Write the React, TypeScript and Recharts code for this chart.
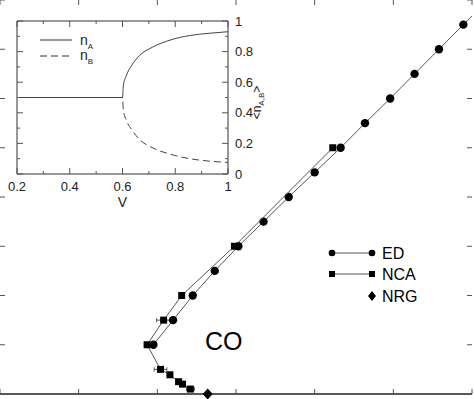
import React from "react";
import {
  ScatterChart,
  Scatter,
  LineChart,
  Line,
  XAxis,
  YAxis,
  ErrorBar,
  Legend,
  Label,
} from "recharts";

// main panel - ED (circles)
const edX = [1.95, 2.2, 2.45, 2.73, 3.03, 3.35, 3.67, 4.0, 4.33, 4.64, 4.96, 5.27, 5.58, 5.89, 6.2];
const edY = [1.0, 1.5, 2.0, 2.5, 3.0, 3.5, 4.0, 4.5, 5.0, 5.5, 6.0, 6.5, 7.0, 7.5, 8.0];

// NCA (squares), with horizontal error bars on a few points
const ncaX = [4.23, 2.98, 2.31, 2.08, 1.87, 2.04, 2.16, 2.27, 2.32, 2.42];
const ncaY = [5.0, 3.0, 2.0, 1.5, 1.0, 0.5, 0.39, 0.25, 0.2, 0.1];
const ncaErr = [0, 0, 0, 0.09, 0, 0.08, 0, 0, 0, 0.05];

// NRG (diamond)
const nrgX = [2.64];
const nrgY = [0];

const mainXTicks = [0, 1, 2, 3, 4, 5, 6];
const mainYTicks = [0, 1, 2, 3, 4, 5, 6, 7, 8];

// inset: occupation numbers vs V
const insetV = [0.2, 0.6, 0.603, 0.615, 0.635, 0.665, 0.715, 0.78, 0.855, 0.93, 1.0];
const nA = [0.5, 0.5, 0.575, 0.645, 0.71, 0.775, 0.83, 0.875, 0.905, 0.92, 0.93];
const nB = [0.5, 0.5, 0.42, 0.35, 0.29, 0.225, 0.17, 0.13, 0.1, 0.084, 0.076];

const insetXMajor = [0.2, 0.4, 0.6, 0.8, 1];
const insetXMinor = [0.2, 0.3, 0.4, 0.5, 0.6, 0.7, 0.8, 0.9, 1];
const insetYMajor = [0, 0.2, 0.4, 0.6, 0.8, 1];
const insetYMinor = [0, 0.1, 0.2, 0.3, 0.4, 0.5, 0.6, 0.7, 0.8, 0.9, 1];

const edData = edX.map((x, i) => ({ x, y: edY[i] }));
const ncaData = ncaX.map((x, i) => ({ x, y: ncaY[i], err: ncaErr[i] }));
const nrgData = nrgX.map((x, i) => ({ x, y: nrgY[i] }));
const insetData = insetV.map((v, i) => ({ v, a: nA[i], b: nB[i] }));

const FONT = '"Liberation Sans", Arial, sans-serif';
const TICK = "#555";
const LINE = "#555";

type Side = "bottom" | "top" | "left" | "right";

// inward tick marks (major/minor) + optional label, drawn from the axis position
const inTick =
  (side: Side, majors: number[] | null, labels: boolean, majLen = 5, minLen = 3) =>
  (p: any) => {
    const v = p.payload.value;
    const isMaj = !majors || majors.some((m) => Math.abs(m - v) < 1e-6);
    const len = isMaj ? majLen : minLen;
    const { x, y } = p;
    let line;
    if (side === "bottom") line = <line x1={x} y1={y} x2={x} y2={y - len} stroke={TICK} />;
    else if (side === "top") line = <line x1={x} y1={y} x2={x} y2={y + len} stroke={TICK} />;
    else if (side === "left") line = <line x1={x} y1={y} x2={x + len} y2={y} stroke={TICK} />;
    else line = <line x1={x} y1={y} x2={x - len} y2={y} stroke={TICK} />;
    let txt = null;
    if (labels && isMaj) {
      if (side === "bottom")
        txt = (
          <text x={x} y={y + 8} dy="0.71em" textAnchor="middle" fontSize={13} fill="#222">
            {String(v)}
          </text>
        );
      else if (side === "right")
        txt = (
          <text x={x + 7} y={y} dy="0.36em" textAnchor="start" fontSize={13} fill="#222">
            {String(v)}
          </text>
        );
    }
    return (
      <g>
        {line}
        {txt}
      </g>
    );
  };

const Dot = (p: any) => <circle cx={p.cx} cy={p.cy} r={4.2} fill="#000" />;
const Sq = (p: any) => <rect x={p.cx - 3.5} y={p.cy - 3.5} width={7} height={7} fill="#000" />;
const Dia = (p: any) => (
  <polygon
    points={`${p.cx},${p.cy - 5.5} ${p.cx + 5},${p.cy} ${p.cx},${p.cy + 5.5} ${p.cx - 5},${p.cy}`}
    fill="#000"
  />
);

const MainLegend = () => (
  <svg width={110} height={70} style={{ display: "block" }}>
    <line x1={7} y1={13} x2={47} y2={13} stroke={LINE} />
    <circle cx={7} cy={13} r={3.3} fill="#000" />
    <circle cx={47} cy={13} r={3.3} fill="#000" />
    <text x={57} y={19} fontSize={16} fill="#000">ED</text>
    <line x1={7} y1={34} x2={47} y2={34} stroke={LINE} />
    <rect x={4} y={31} width={6} height={6} fill="#000" />
    <rect x={44} y={31} width={6} height={6} fill="#000" />
    <text x={57} y={40} fontSize={16} fill="#000">NCA</text>
    <polygon points="47,51 51,56 47,61 43,56" fill="#000" />
    <text x={57} y={62} fontSize={16} fill="#000">NRG</text>
  </svg>
);

const InsetLegend = () => (
  <svg width={80} height={40} style={{ display: "block" }}>
    <line x1={10} y1={12} x2={42} y2={12} stroke="#333" />
    <text x={50} y={17} fontSize={14} fill="#222">
      n<tspan fontSize={8} dy={4}>A</tspan>
    </text>
    <line x1={10} y1={28} x2={42} y2={28} stroke="#333" strokeDasharray="7 4" />
    <text x={50} y={32} fontSize={14} fill="#222">
      n<tspan fontSize={8} dy={4}>B</tspan>
    </text>
  </svg>
);

const NabLabel = (props: any) => {
  const vb = props.viewBox || { x: 0, y: 0, width: 0, height: 0 };
  const cx = vb.x + 33;
  const cy = vb.y + vb.height / 2 + 5;
  return (
    <text
      transform={`rotate(-90 ${cx} ${cy})`}
      x={cx}
      y={cy}
      textAnchor="middle"
      fontSize={12}
      fill="#222"
    >
      &lt;n<tspan fontSize={8} dy={3}>A,B</tspan>
      <tspan dy={-3}>&gt;</tspan>
    </text>
  );
};

const noLegendOffset = {
  layout: "horizontal" as const,
  verticalAlign: "middle" as const,
  align: "center" as const,
};

const axisBase = {
  type: "number" as const,
  interval: 0 as const,
  allowDataOverflow: true,
  tickSize: 0,
  tickMargin: 0,
  tickLine: false,
};

export default function App() {
  return (
    <div
      style={{
        position: "absolute",
        left: 0,
        top: 0,
        width: 474,
        height: 399,
        overflow: "hidden",
        background: "#fff",
        fontFamily: FONT,
      }}
    >
      {/* main panel (its left, top and right frame lines fall outside the crop) */}
      <div style={{ position: "absolute", left: -1, top: -1 }}>
        <ScatterChart width={475} height={400} margin={{ top: 0, right: 1, bottom: 4, left: 0 }}>
          <XAxis
            {...axisBase}
            xAxisId="b"
            dataKey="x"
            domain={[0, 6]}
            ticks={mainXTicks}
            height={1}
            tick={inTick("bottom", null, false)}
            axisLine={{ stroke: "#222", strokeWidth: 1.5 }}
          />
          <XAxis
            {...axisBase}
            allowDataOverflow={false}
            xAxisId="t"
            orientation="top"
            dataKey="x"
            domain={[0, 6]}
            ticks={mainXTicks}
            height={1}
            tick={inTick("top", null, false)}
            axisLine={false}
          />
          <YAxis
            {...axisBase}
            yAxisId="l"
            dataKey="y"
            domain={[0, 8]}
            ticks={mainYTicks}
            width={1}
            tick={inTick("left", null, false)}
            axisLine={false}
          />
          <YAxis
            {...axisBase}
            allowDataOverflow={false}
            yAxisId="r"
            orientation="right"
            dataKey="y"
            domain={[0, 8]}
            ticks={mainYTicks}
            width={1}
            tick={inTick("right", null, false)}
            axisLine={false}
          />
          <Scatter
            name="ED"
            xAxisId="b"
            yAxisId="l"
            data={edData}
            line={{ stroke: LINE, strokeWidth: 1 }}
            shape={Dot}
            isAnimationActive={false}
          />
          <Scatter
            name="NCA"
            xAxisId="b"
            yAxisId="l"
            data={ncaData}
            line={{ stroke: LINE, strokeWidth: 1 }}
            shape={Sq}
            isAnimationActive={false}
          >
            <ErrorBar dataKey="err" direction="x" width={2} stroke={LINE} strokeWidth={1} />
          </Scatter>
          <Scatter
            name="NRG"
            xAxisId="t"
            yAxisId="r"
            data={nrgData}
            shape={Dia}
            isAnimationActive={false}
          />
          <Legend
            {...noLegendOffset}
            content={MainLegend}
            wrapperStyle={{ position: "absolute", left: 326, top: 241, width: 110, height: 70 }}
          />
        </ScatterChart>
      </div>

      {/* inset */}
      <div style={{ position: "absolute", left: 0, top: 0 }}>
        <LineChart width={280} height={212} data={insetData} margin={{ top: 20, right: 51, bottom: 37, left: 16 }}>
          <XAxis
            {...axisBase}
            xAxisId="b"
            dataKey="v"
            domain={[0.2, 1]}
            ticks={insetXMinor}
            height={1}
            tick={inTick("bottom", insetXMajor, true, 6, 3)}
            axisLine={{ stroke: "#333" }}
            label={{ value: "V", position: "bottom", offset: 22, fontSize: 14, fill: "#222" }}
          />
          <XAxis
            {...axisBase}
            xAxisId="t"
            orientation="top"
            dataKey="v"
            domain={[0.2, 1]}
            ticks={insetXMinor}
            height={1}
            tick={inTick("top", insetXMajor, false, 6, 3)}
            axisLine={{ stroke: "#333" }}
          />
          <YAxis
            {...axisBase}
            yAxisId="l"
            domain={[0, 1]}
            ticks={insetYMinor}
            width={1}
            tick={inTick("left", insetYMajor, false, 6, 3)}
            axisLine={{ stroke: "#333" }}
          />
          <YAxis
            {...axisBase}
            yAxisId="r"
            orientation="right"
            domain={[0, 1]}
            ticks={insetYMinor}
            width={1}
            tick={inTick("right", insetYMajor, true, 6, 3)}
            axisLine={{ stroke: "#333" }}
            label={<Label content={NabLabel} />}
          />
          <Line
            xAxisId="b"
            yAxisId="r"
            type="monotone"
            dataKey="b"
            stroke="#444"
            strokeWidth={1}
            strokeDasharray="7 4"
            dot={false}
            isAnimationActive={false}
          />
          <Line
            xAxisId="b"
            yAxisId="r"
            type="monotone"
            dataKey="a"
            stroke="#444"
            strokeWidth={1}
            dot={false}
            isAnimationActive={false}
          />
          <Legend
            {...noLegendOffset}
            content={InsetLegend}
            wrapperStyle={{ position: "absolute", left: 30, top: 28, width: 80, height: 40 }}
          />
        </LineChart>
      </div>

      <div
        style={{
          position: "absolute",
          left: 205,
          top: 329,
          fontSize: 25,
          lineHeight: "25px",
          color: "#000",
          whiteSpace: "nowrap",
        }}
      >
        CO
      </div>
    </div>
  );
}
